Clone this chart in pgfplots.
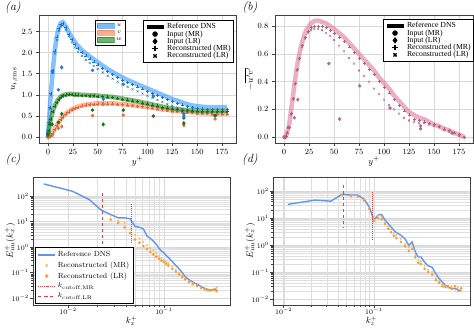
\documentclass[border=0pt]{standalone}
\usepackage{pgfplots}
\pgfplotsset{compat=1.18}
\usepackage{pgfplotstable}
\usepackage{fontspec}
\newfontfamily\timesf{Liberation Serif}
\definecolor{cu}{RGB}{30,144,255}
\definecolor{cv}{RGB}{255,120,70}
\definecolor{cw}{RGB}{34,139,34}
\definecolor{cuv}{RGB}{222,120,155}
\definecolor{cblue}{RGB}{100,149,237}
\definecolor{cred}{RGB}{214,70,70}
\definecolor{corA}{RGB}{255,185,100}
\definecolor{corB}{RGB}{255,150,40}

\pgfplotstableread{
y u uM uL v vM vL w wM wL s sM sL
0 0 0.02 0.03 0 0 0 0 0 0 0 0 0
1 0.36 0.35 0.33 0.01 0.01 0.01 0.17 0.16 0.15 0 0 0
2 0.72 0.70 0.67 0.03 0.02 0.02 0.32 0.31 0.29 0.01 0.01 0.01
3 1.06 1.03 0.99 0.05 0.04 0.03 0.44 0.43 0.41 0.03 0.03 0.03
5 1.62 1.58 1.52 0.11 0.10 0.08 0.62 0.61 0.59 0.08 0.07 0.07
7 2.08 2.04 1.98 0.20 0.19 0.17 0.75 0.74 0.72 0.19 0.17 0.16
9 2.40 2.37 2.30 0.28 0.27 0.25 0.84 0.83 0.81 0.30 0.28 0.27
11 2.60 2.57 2.52 0.36 0.35 0.33 0.91 0.90 0.88 0.41 0.39 0.38
13 2.70 2.67 2.62 0.43 0.42 0.40 0.96 0.95 0.93 0.51 0.49 0.48
15 2.72 2.69 2.64 0.49 0.48 0.46 0.99 0.98 0.96 0.59 0.57 0.56
18 2.62 2.59 2.54 0.56 0.55 0.53 1.01 1.00 0.98 0.68 0.66 0.65
21 2.48 2.44 2.38 0.61 0.60 0.58 1.02 1.01 0.99 0.75 0.72 0.71
24 2.36 2.31 2.24 0.66 0.65 0.63 1.02 1.01 0.99 0.79 0.76 0.75
27 2.25 2.20 2.12 0.69 0.68 0.66 1.01 1.00 0.98 0.82 0.79 0.77
30 2.16 2.10 2.02 0.72 0.71 0.69 1.01 1.00 0.98 0.835 0.80 0.78
34 2.06 2.00 1.92 0.75 0.74 0.72 1.00 0.99 0.97 0.84 0.80 0.78
38 1.98 1.92 1.83 0.77 0.76 0.74 1.00 0.99 0.97 0.83 0.80 0.77
42 1.91 1.85 1.75 0.78 0.77 0.75 0.99 0.98 0.96 0.82 0.79 0.75
46 1.84 1.78 1.68 0.79 0.78 0.76 0.99 0.98 0.96 0.80 0.77 0.73
50 1.77 1.71 1.61 0.80 0.79 0.77 0.98 0.97 0.95 0.78 0.75 0.70
55 1.69 1.63 1.53 0.80 0.79 0.77 0.97 0.96 0.94 0.75 0.72 0.66
60 1.61 1.55 1.45 0.80 0.79 0.77 0.96 0.95 0.93 0.72 0.69 0.62
65 1.54 1.48 1.38 0.80 0.79 0.77 0.95 0.94 0.92 0.68 0.65 0.57
70 1.47 1.41 1.31 0.79 0.78 0.76 0.93 0.92 0.90 0.64 0.61 0.53
75 1.41 1.35 1.25 0.78 0.77 0.75 0.91 0.90 0.88 0.60 0.57 0.48
80 1.35 1.29 1.19 0.77 0.76 0.74 0.89 0.88 0.86 0.56 0.53 0.44
85 1.30 1.24 1.13 0.76 0.75 0.73 0.87 0.86 0.84 0.52 0.49 0.40
90 1.25 1.19 1.08 0.74 0.73 0.71 0.85 0.84 0.82 0.48 0.45 0.35
95 1.20 1.14 1.03 0.73 0.72 0.70 0.82 0.81 0.79 0.43 0.40 0.31
100 1.15 1.09 0.98 0.71 0.70 0.68 0.80 0.79 0.77 0.39 0.36 0.27
105 1.10 1.04 0.93 0.70 0.69 0.67 0.77 0.76 0.74 0.35 0.32 0.23
110 1.05 0.99 0.88 0.68 0.67 0.65 0.75 0.74 0.72 0.30 0.27 0.20
115 1.00 0.94 0.83 0.66 0.65 0.63 0.72 0.71 0.69 0.26 0.23 0.17
120 0.95 0.89 0.78 0.65 0.64 0.62 0.70 0.69 0.67 0.22 0.19 0.14
125 0.90 0.84 0.74 0.63 0.62 0.60 0.68 0.67 0.65 0.18 0.16 0.12
130 0.86 0.80 0.70 0.62 0.61 0.59 0.66 0.65 0.63 0.16 0.13 0.11
135 0.82 0.76 0.66 0.61 0.60 0.58 0.65 0.64 0.62 0.14 0.12 0.10
140 0.78 0.73 0.63 0.60 0.59 0.57 0.64 0.63 0.61 0.13 0.11 0.10
145 0.75 0.70 0.61 0.59 0.58 0.56 0.63 0.62 0.60 0.11 0.10 0.09
150 0.73 0.68 0.59 0.58 0.57 0.55 0.63 0.62 0.60 0.09 0.09 0.08
155 0.72 0.67 0.58 0.57 0.56 0.54 0.62 0.61 0.59 0.08 0.08 0.07
160 0.71 0.66 0.58 0.57 0.56 0.54 0.62 0.61 0.59 0.06 0.06 0.05
165 0.71 0.66 0.58 0.56 0.55 0.53 0.62 0.61 0.59 0.05 0.05 0.04
170 0.71 0.66 0.58 0.56 0.55 0.53 0.62 0.61 0.59 0.03 0.03 0.03
175 0.71 0.66 0.58 0.56 0.55 0.53 0.62 0.61 0.59 0.02 0.02 0.01
180 0.71 0.66 0.58 0.56 0.55 0.53 0.62 0.61 0.59 0.00 0.00 0.00
}\prof

\pgfplotstableread{
y u v w s
0 0.10 0.00 0.08 0.00
10.4 1.12 0.21 0.35 0.14
44.8 1.58 0.51 0.64 0.53
75.7 1.25 0.52 0.64 0.37
106 0.97 0.49 0.50 0.21
136.6 0.55 0.31 0.45 0.06
168 0.50 0.43 0.51 0.03
}\inMR

\pgfplotstableread{
y u v w s
0 0.05 0.00 0.05 0.00
4.3 1.55 0.05 0.30 0.07
13.8 1.65 0.25 0.55 0.27
55.6 0.90 0.78 0.30 0.13
136.6 0.50 0.28 0.33 0.08
}\inLR

\pgfplotstableread{
k E
0.00556 300
0.0111 155
0.0167 72
0.0222 28
0.0278 19
0.0333 14
0.0389 14
0.0444 13
0.0500 6.5
0.0556 6
0.0611 5.2
0.0667 2.7
0.0722 2.2
0.0778 1.7
0.0833 1.3
0.0889 0.9
0.0944 0.7
0.1000 0.6
0.1056 0.47
0.1111 0.40
0.1222 0.27
0.1333 0.19
0.1444 0.14
0.1556 0.10
0.1667 0.07
0.1833 0.052
0.2000 0.043
0.2222 0.035
0.2444 0.029
0.2667 0.024
0.2889 0.022
0.3111 0.021
0.3333 0.022
0.3556 0.023
}\cref

\pgfplotstableread{
k M L
0.0278 17 12
0.0333 11 9
0.0389 9 6
0.0444 5 3.5
0.0500 3 2
0.0556 2.2 1.5
0.0611 1.6 1.1
0.0667 1.2 0.85
0.0722 0.9 0.65
0.0778 0.75 0.52
0.0833 0.6 0.42
0.0889 0.45 0.35
0.0944 0.38 0.3
0.1000 0.32 0.26
0.1056 0.27 0.22
0.1111 0.24 0.19
0.1222 0.18 0.14
0.1333 0.13 0.11
0.1444 0.1 0.085
0.1556 0.08 0.068
0.1667 0.06 0.055
0.1833 0.047 0.043
0.2000 0.04 0.036
0.2222 0.032 0.03
0.2444 0.027 0.025
0.2667 0.024 0.022
0.2889 0.022 0.02
0.3111 0.021 0.02
0.3333 0.023 0.021
0.3556 0.026 0.019
}\crec

\pgfplotstableread{
k E
0.0111 32
0.0222 46
0.0333 42
0.0444 75
0.0556 71
0.0667 71
0.0778 50
0.0889 26
0.1000 8.3
0.1111 12.8
0.1222 13.5
0.1333 8.3
0.1444 6.2
0.1556 4.7
0.1667 3.5
0.1778 2.9
0.2000 2.3
0.2222 1.7
0.2444 0.97
0.2667 1.3
0.2889 0.55
0.3111 0.36
0.3333 0.36
0.3667 0.23
0.4000 0.17
0.4444 0.15
0.4889 0.085
0.5333 0.056
0.5778 0.042
0.6222 0.032
0.6667 0.028
0.7333 0.024
0.8000 0.025
0.8667 0.022
0.9333 0.020
}\dref

\pgfplotstableread{
k M L
0.0444 72 70
0.0556 68 65
0.0667 66 63
0.0778 48 45
0.0889 24 22
0.1000 9 8
0.1111 12 10
0.1222 11 9
0.1333 7 6
0.1444 5 4
0.1556 3.8 3
0.1667 2.8 2.2
0.1778 2.3 1.8
0.2000 1.7 1.3
0.2222 1.1 0.9
0.2444 0.8 0.6
0.2667 0.9 0.7
0.2889 0.42 0.35
0.3111 0.28 0.22
0.3333 0.25 0.2
0.3667 0.17 0.13
0.4000 0.12 0.1
0.4444 0.1 0.08
0.4889 0.06 0.05
0.5333 0.045 0.04
0.5778 0.035 0.03
0.6222 0.03 0.028
0.6667 0.026 0.03
0.7333 0.03 0.024
0.8000 0.022 0.03
0.8667 0.027 0.02
0.9333 0.019 0.025
}\drec

\pgfplotsset{
  myax/.style={scale only axis, anchor=north west,
    axis line style={black!75, line width=0.6pt},
    tick style={black!75, line width=0.5pt},
    tick align=outside, tick pos=left,
    major tick length=3bp, minor tick length=1.8bp,
    tick label style={font=\fontsize{8}{9}\selectfont},
    label style={font=\fontsize{9.5}{10}\selectfont},
    grid style={gray!30, line width=0.5pt},
    minor grid style={gray!25, line width=0.4pt},
    legend cell align=left},
  linax/.style={myax, grid=major, xmin=-9, xmax=189, xtick={0,25,...,175},
    yticklabel style={/pgf/number format/.cd, fixed, fixed zerofill, precision=1},
    xlabel={$y^+$}, xlabel style={yshift=5bp}},
  logax/.style={myax, grid=both,
    ytick={0.01,0.1,1,10,100}, xtick={0.01,0.1},
    tick label style={font=\fontsize{7.5}{8}\selectfont},
    xticklabel style={yshift=3.5bp},
    yticklabel style={inner xsep=1bp},
    xlabel style={yshift=5bp, font=\fontsize{9}{9}\selectfont},
    ylabel style={yshift=-8bp}},
  mkleg/.style={legend style={font=\timesf\fontsize{7.8}{8}\selectfont, draw=black, line width=0.6pt,
    inner sep=1.5bp, row sep=-2.6bp, nodes={inner sep=1.5bp}}},
  recM/.style={only marks, mark=+, mark size=1.5bp, mark options={line width=0.4pt}},
  recL/.style={only marks, mark=x, mark size=1.4bp, mark options={line width=0.4pt}},
}

\begin{document}
\begin{tikzpicture}
\useasboundingbox (0bp,0bp) rectangle (474bp,330bp);

% ---------------- (a)
\begin{axis}[linax, at={(39bp,315bp)}, width=197bp, height=128bp,
  ymin=-0.14, ymax=2.89, ytick={0,0.5,1,1.5,2,2.5},
  ylabel={$u_{i,\mathrm{rms}}$}, ylabel style={yshift=-3bp},
  mkleg, legend style={at={(0.99,0.961)}, anchor=north east}]
\addplot[cu, opacity=0.55, line width=4.5bp, forget plot] table[x=y,y=u]{\prof};
\addplot[cv, opacity=0.55, line width=4.5bp, forget plot] table[x=y,y=v]{\prof};
\addplot[cw, opacity=0.6, line width=4.5bp, forget plot] table[x=y,y=w]{\prof};
\addplot[recM, cu!80!black, forget plot] table[x=y,y=uM]{\prof};
\addplot[recL, cu!80!black, forget plot] table[x=y,y=uL]{\prof};
\addplot[recM, cv!85!black, forget plot] table[x=y,y=vM]{\prof};
\addplot[recL, cv!85!black, forget plot] table[x=y,y=vL]{\prof};
\addplot[recM, cw!75!black, forget plot] table[x=y,y=wM]{\prof};
\addplot[recL, cw!75!black, forget plot] table[x=y,y=wL]{\prof};
\addplot[only marks, mark=*, mark size=1.5bp, cu!85!black, forget plot] table[x=y,y=u]{\inMR};
\addplot[only marks, mark=*, mark size=1.5bp, cv!90!black, forget plot] table[x=y,y=v]{\inMR};
\addplot[only marks, mark=*, mark size=1.5bp, cw!80!black, forget plot] table[x=y,y=w]{\inMR};
\addplot[only marks, mark=diamond*, mark size=1.8bp, cu!85!black, forget plot] table[x=y,y=u]{\inLR};
\addplot[only marks, mark=diamond*, mark size=1.8bp, cv!90!black, forget plot] table[x=y,y=v]{\inLR};
\addplot[only marks, mark=diamond*, mark size=1.8bp, cw!80!black, forget plot] table[x=y,y=w]{\inLR};
\addlegendimage{black, line width=4bp}
\addlegendentry{Reference DNS}
\addlegendimage{only marks, mark=*, black, mark size=2.4bp}
\addlegendentry{Input (MR)}
\addlegendimage{only marks, mark=diamond*, black, mark size=2.8bp}
\addlegendentry{Input (LR)}
\addlegendimage{only marks, mark=+, black, mark size=2.6bp, line width=1.3pt}
\addlegendentry{Reconstructed (MR)}
\addlegendimage{only marks, mark=x, black, mark size=2.3bp, line width=1.3pt}
\addlegendentry{Reconstructed (LR)}
\end{axis}
\begin{axis}[scale only axis, anchor=north west, at={(39bp,315bp)}, width=197bp, height=128bp,
  hide axis, xmin=0, xmax=1, ymin=0, ymax=1,
  legend style={at={(0.284,0.961)}, anchor=north west, font=\fontsize{6.5}{7}\selectfont,
    draw=black, line width=0.6pt, inner sep=1.5bp, row sep=-1bp},
  legend image code/.code={\fill[#1] (0bp,-2.6bp) rectangle (17bp,2.6bp);}]
\addlegendimage{cu, opacity=0.6}
\addlegendentry{$u$}
\addlegendimage{cv, opacity=0.6}
\addlegendentry{$v$}
\addlegendimage{cw, opacity=0.65}
\addlegendentry{$w$}
\end{axis}

% ---------------- (b)
\begin{axis}[linax, at={(275bp,315bp)}, width=198bp, height=128bp,
  ymin=-0.042, ymax=0.88, ytick={0,0.2,0.4,0.6,0.8},
  ylabel={$-\overline{u'v'}$}, ylabel style={yshift=-3bp},
  mkleg, legend style={at={(1.005,0.969)}, anchor=north east}]
\addplot[cuv, opacity=0.6, line width=4.5bp, forget plot] table[x=y,y=s]{\prof};
\addplot[recM, cuv!80!black, forget plot] table[x=y,y=sM]{\prof};
\addplot[recL, cuv!80!black, forget plot] table[x=y,y=sL]{\prof};
\addplot[only marks, mark=*, mark size=1.5bp, cuv!85!black, forget plot] table[x=y,y=s]{\inMR};
\addplot[only marks, mark=diamond*, mark size=1.8bp, cuv!85!black, forget plot] table[x=y,y=s]{\inLR};
\addlegendimage{black, line width=4bp}
\addlegendentry{Reference DNS}
\addlegendimage{only marks, mark=*, black, mark size=2.4bp}
\addlegendentry{Input (MR)}
\addlegendimage{only marks, mark=diamond*, black, mark size=2.8bp}
\addlegendentry{Input (LR)}
\addlegendimage{only marks, mark=+, black, mark size=2.6bp, line width=1.3pt}
\addlegendentry{Reconstructed (MR)}
\addlegendimage{only marks, mark=x, black, mark size=2.3bp, line width=1.3pt}
\addlegendentry{Reconstructed (LR)}
\end{axis}

% ---------------- (c)
\begin{axis}[logax, xmode=log, ymode=log, at={(33bp,153bp)}, width=197bp, height=128bp,
  xmin=0.0043, xmax=0.49, ymin=0.0054, ymax=560,
  xlabel={$k_x^+$}, ylabel={$E^+_{uu}(k_x^+)$},
  legend style={at={(0.01,0.01)}, anchor=south west, font=\fontsize{7.5}{8}\selectfont,
    draw=black, line width=1pt, fill=white, inner sep=2bp, row sep=-0.5bp}]
\addplot[cblue, line width=1.4pt] table[x=k,y=E]{\cref};
\addlegendentry{Reference DNS}
\addplot[only marks, mark=*, mark size=0.8bp, corA] table[x=k,y=M]{\crec};
\addlegendentry{Reconstructed (MR)}
\addplot[only marks, mark=*, mark size=1.1bp, corB] table[x=k,y=L]{\crec};
\addlegendentry{Reconstructed (LR)}
\addplot[draw=cred, densely dotted, line width=1pt] coordinates {(0.0464,50) (0.0464,1.6)};
\addlegendentry{$k_{\mathrm{cutoff,MR}}$}
\addplot[draw=cred, dashed, line width=1pt] coordinates {(0.0228,134) (0.0228,0.5)};
\addlegendentry{$k_{\mathrm{cutoff,LR}}$}
\end{axis}

% ---------------- (d)
\begin{axis}[logax, xmode=log, ymode=log, at={(273bp,153bp)}, width=197bp, height=128bp,
  xmin=0.0076, xmax=1.17, ymin=0.006, ymax=330,
  xlabel={$k_z^+$}, ylabel={$E^+_{uu}(k_z^+)$}]
\addplot[cblue, line width=1.4pt] table[x=k,y=E]{\dref};
\addplot[only marks, mark=*, mark size=0.8bp, corA] table[x=k,y=M]{\drec};
\addplot[only marks, mark=*, mark size=1.1bp, corB] table[x=k,y=L]{\drec};
\addplot[draw=cred, densely dotted, line width=1pt] coordinates {(0.097,95) (0.097,1.5)};
\addplot[draw=cred, dashed, line width=1pt] coordinates {(0.046,167) (0.046,4.1)};
\end{axis}

\node[font=\fontsize{12}{12}\selectfont] at (13bp,322bp) {\textit{(a)}};
\node[font=\fontsize{12}{12}\selectfont] at (250bp,322bp) {\textit{(b)}};
\node[font=\fontsize{12}{12}\selectfont] at (13bp,170bp) {\textit{(c)}};
\node[font=\fontsize{12}{12}\selectfont] at (250bp,170bp) {\textit{(d)}};
\end{tikzpicture}
\end{document}
